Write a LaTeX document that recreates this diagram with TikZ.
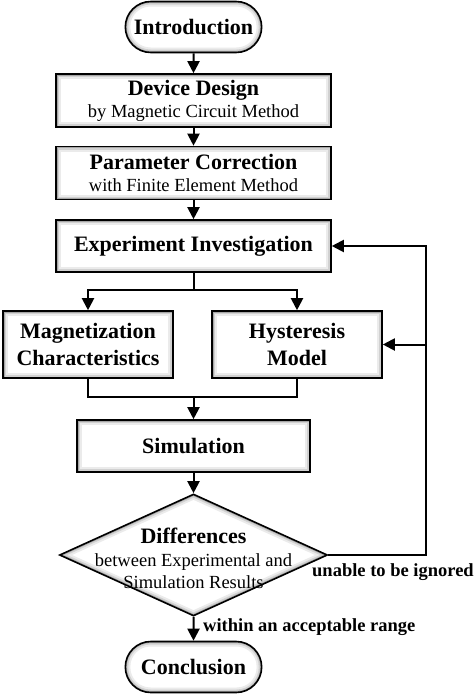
\documentclass[tikz,border=0pt]{standalone}
\usepackage{fontspec}
\setmainfont{Liberation Serif}
\usetikzlibrary{shapes.geometric,shapes.misc,arrows.meta}
\tikzstyle{Glow}=[path picture={
  \foreach \w/\c in {10/8,6/18,3/35}{
    \draw[black!\c,line width=\w pt] (path picture bounding box.south west)
      rectangle (path picture bounding box.north east);}}]
\tikzstyle{Box}=[rectangle,draw=black,line width=1.6pt,fill=white,Glow,
  minimum width=275pt,minimum height=53pt,align=center,inner sep=2pt,
  font=\SubFont]
\tikzstyle{Term}=[rounded rectangle,draw=black,line width=1.6pt,fill=white,
  minimum width=143pt,minimum height=51pt,font=\TitleFont,
  path picture={
  \foreach \w/\c in {10/8,6/18,3/35}{
    \draw[black!\c,line width=\w pt,rounded corners=25pt]
      (path picture bounding box.south west)
      rectangle (path picture bounding box.north east);}}]
\tikzstyle{Decision}=[diamond,draw=black,line width=1.6pt,fill=white,
  minimum width=268pt,minimum height=122pt,inner sep=0pt,
  path picture={
  \foreach \w/\c in {10/8,6/18,3/35}{
    \draw[black!\c,line width=\w pt]
      (path picture bounding box.north) -- (path picture bounding box.east)
      -- (path picture bounding box.south) -- (path picture bounding box.west)
      -- cycle;}}]
\tikzstyle{Edge}=[draw=black,line width=2pt]
\tikzstyle{Arrow}=[Edge,-{Triangle[length=12pt,width=12pt]}]
\tikzstyle{EdgeLabel}=[font=\LabelFont,inner sep=0pt,anchor=west]
\newcommand{\TitleFont}{\fontsize{22}{27}\selectfont\bfseries}
\newcommand{\SubFont}{\fontsize{18.5}{22}\selectfont}
\newcommand{\LabelFont}{\fontsize{18.5}{22}\selectfont\bfseries}
\begin{document}
\begin{tikzpicture}[x=1pt,y=-1pt]
    \useasboundingbox (0,0) rectangle (474,696);
    % terminals and steps
    \node[Term](intro)at(193.5,27){Introduction};
    \node[Box](design)at(193.5,100.5){{\TitleFont Device Design}\\
      by Magnetic Circuit Method};
    \node[Box](corr)at(193.5,173){{\TitleFont Parameter Correction}\\
      with Finite Element Method};
    \node[Box,minimum height=52pt,font=\TitleFont](exper)at(193.5,246)
      {Experiment Investigation};
    \node[Box,minimum width=170pt,minimum height=67pt,font=\TitleFont](magn)
      at(88,344.5){Magnetization\\Characteristics};
    \node[Box,minimum width=170pt,minimum height=67pt,font=\TitleFont](hyst)
      at(297,344.5){Hysteresis\\Model};
    \node[Box,minimum width=233pt,minimum height=52pt,font=\TitleFont](sim)
      at(193.5,446){Simulation};
    \node[Decision](diff)at(193.5,555){};
    \node[align=center,inner sep=0pt,font=\SubFont](difftext)at(193.5,558)
      {{\TitleFont Differences}\\[1pt]
       between Experimental and\\
       Simulation Results};
    \node[Term](conc)at(193.5,667){Conclusion};
    % main flow
    \draw[Arrow](intro)--(design);
    \draw[Arrow](design)--(corr);
    \draw[Arrow](corr)--(exper);
    \coordinate(split)at(193.5,290);
    \coordinate(join)at(193.5,397);
    \draw[Edge](exper)--(split);
    \draw[Arrow](split)-|(magn.north);
    \draw[Arrow](split)-|(hyst.north);
    \draw[Edge](magn.south)|-(join)-|(hyst.south);
    \draw[Arrow](join)--(sim);
    \draw[Arrow](sim)--(diff);
    \draw[Arrow](diff)--(conc);
    \node[EdgeLabel](ok)at(203,627){within an acceptable range};
    % feedback loop
    \coordinate(fbtop)at(426,246);
    \coordinate(fbmid)at(426,344.5);
    \draw[Arrow](diff.east)-|(fbtop)--(exper.east);
    \draw[Arrow](fbmid)--(hyst.east);
    \node[EdgeLabel](nok)at(312,572){unable to be ignored};
\end{tikzpicture}
\end{document}
